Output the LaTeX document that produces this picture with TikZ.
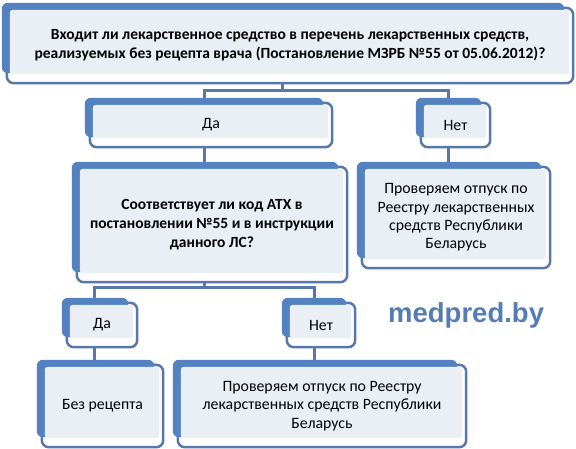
\documentclass[tikz,border=0pt]{standalone}
\usepackage{fontspec}
\setmainfont{Carlito}
\newfontfamily\logofont{Liberation Sans}
\usepackage{tikz}
\usetikzlibrary{calc}
\pgfdeclarelayer{bg}
\pgfdeclarelayer{mid}
\pgfsetlayers{bg,mid,main}
\definecolor{SmBlue}{RGB}{84,130,192}
\definecolor{SmLine}{RGB}{88,120,172}
\definecolor{SmFill}{RGB}{234,239,246}
\definecolor{LogoBlue}{RGB}{86,124,182}

\begin{document}
\begin{tikzpicture}[x=1pt,y=-1pt,line cap=round,line join=round,
  box/.style={inner sep=0pt,align=center,font=\fontsize{15.8}{18.3}\selectfont},
  bbox/.style={box,font=\fontsize{15.5}{19}\selectfont\bfseries},
  front/.style={draw=SmLine,line width=2.5pt,fill=white,rounded corners=7pt},
  back/.style={fill=SmBlue,rounded corners=6pt},
  lite/.style={fill=SmFill,rounded corners=3pt},
  link/.style={draw=SmLine,line width=3pt,line cap=butt}]
\useasboundingbox (0,0) rectangle (576,449);
% questions and answers
\node[bbox,minimum width=566pt,minimum height=75pt] (q1) at (290,45.5)
  {\raisebox{-3pt}{\begin{tabular}{@{}c@{}}Входит ли лекарственное средство в перечень лекарственных средств,\\
   реализуемых без рецепта врача (Постановление МЗРБ №55 от 05.06.2012)?\end{tabular}}};
\node[box,minimum width=242pt,minimum height=44pt] (da1) at (211,125) {Да};
\node[box,minimum width=69pt,minimum height=44pt] (net1) at (455.5,125) {Нет};
\node[bbox,minimum width=270pt,minimum height=115pt] (q2) at (212,224.5)
  {Соответствует ли код АТХ в\\постановлении №55 и в инструкции\\данного ЛС?};
\node[box,minimum width=188pt,minimum height=101pt] (reg1) at (456,217.5)
  {Проверяем отпуск по\\Реестру лекарственных\\средств Республики\\Беларусь};
\node[box,minimum width=70pt,minimum height=44pt] (da2) at (102,325) {Да};
\node[box,minimum width=68pt,minimum height=44pt] (net2) at (321,325) {Нет};
\node[box,minimum width=121pt,minimum height=82pt] (otc) at (102.5,406) {Без рецепта};
\node[box,minimum width=288pt,minimum height=82pt] (reg2) at (322,406)
  {Проверяем отпуск по Реестру\\лекарственных средств Республики\\Беларусь};
\node[anchor=base west,inner sep=0pt,text=LogoBlue,font=\logofont\fontsize{27.5}{30}\selectfont\bfseries] (logo) at (388,323) {medpred.by};
% connectors
\coordinate (t0) at (282,91);
\coordinate (a0) at (204,91);
\coordinate (b0) at (448,91);
\coordinate (t1) at (204,288);
\coordinate (a1) at (94,288);
\coordinate (b1) at (314,288);
\begin{pgfonlayer}{bg}
\draw[link] (t0 |- q1.south) -- (t0);
\draw[link] (a0 |- da1.north) -- (a0) -- (b0) -- (b0 |- net1.north);
\draw[link] (a0 |- da1.south) -- (a0 |- q2.north);
\draw[link] (b0 |- net1.south) -- (b0 |- reg1.north);
\draw[link] (t1 |- q2.south) -- (t1);
\draw[link] (a1 |- da2.north) -- (a1) -- (b1) -- (b1 |- net2.north);
\draw[link] (a1 |- da2.south) -- (a1 |- otc.north);
\draw[link] (b1 |- net2.south) -- (b1 |- reg2.north);
\foreach \n in {q1,da1,net1,q2,reg1,da2,net2,otc,reg2}
  \draw[front] (\n.north west) rectangle (\n.south east);
\end{pgfonlayer}
\begin{pgfonlayer}{mid}
\foreach \n in {q1,da1,net1,q2,reg1,da2,net2,otc,reg2}{
  \fill[back] ($(\n.north west)+(-5,-5)$) rectangle ($(\n.south east)+(-9,-10)$);
  \fill[lite] ($(\n.north west)+(3,2)$) rectangle ($(\n.south east)+(-4,-9)$);
}
\end{pgfonlayer}
\end{tikzpicture}
\end{document}
